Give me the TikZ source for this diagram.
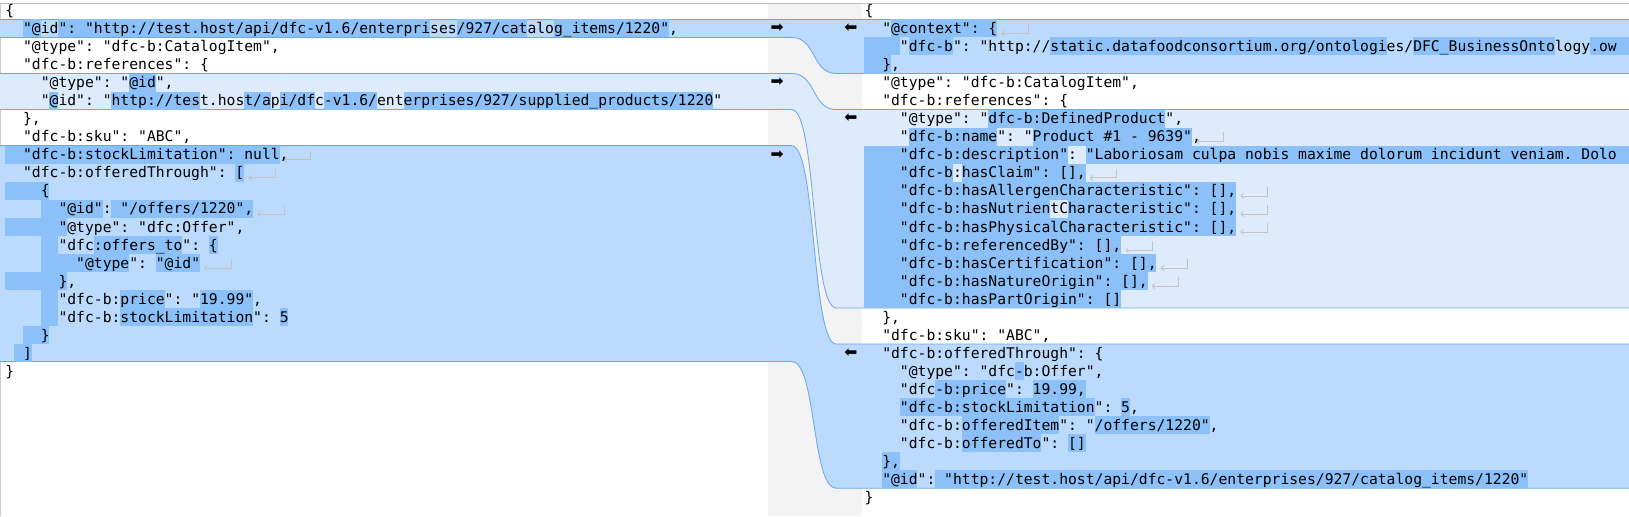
\documentclass[tikz,border=0pt]{standalone}
\usepackage{fontspec}
\setmonofont{DejaVu Sans Mono}
\newfontfamily\symf{DejaVu Sans}
\definecolor{blk}{HTML}{BBDAFC}
\definecolor{lite}{HTML}{DDEBFC}
\definecolor{inl}{HTML}{8CC0F8}
\definecolor{edg}{HTML}{6AA8EE}
\definecolor{gut}{HTML}{F3F3F3}
\definecolor{retc}{HTML}{C4C4C4}
\def\cw{8.52}
\def\rh{17.36}
\newcommand\LT[3]{\node[txt] (l#1) at ({5+#2*\cw},{15+#1*\rh}) {#3};}
\newcommand\RT[3]{\node[txt] (r#1) at ({832+#2*\cw},{15+#1*\rh}) {#3};}
\newcommand\HL[4]{\fill[inl] ({#1+#3*\cw},{1.32+#2*\rh}) rectangle ({#1+#4*\cw},{1.32+(#2+1)*\rh});}
\newcommand\LH[3]{\HL{5}{#1}{#2}{#3}}
\newcommand\RH[3]{\HL{832}{#1}{#2}{#3}}
\newcommand\RET[3]{\draw[retc,line width=0.8pt,-{Straight Barb[length=2.5pt,width=5pt]}] ({#1+#3*\cw+30},{10+#2*\rh-4}) -- ({#1+#3*\cw+30},{10+#2*\rh+5}) -- ({#1+#3*\cw+4},{10+#2*\rh+5});}
\newcommand\band[5]{%
 \fill[#5] (0,#1) -- (762,#1) .. controls (786,#1) and (781,#3) .. (805,#3) -- (1568,#3) -- (1568,#4) -- (805,#4) .. controls (781,#4) and (786,#2) .. (762,#2) -- (0,#2) -- cycle;
 \draw[edg,line width=0.8pt] (0,#1) -- (762,#1) .. controls (786,#1) and (781,#3) .. (805,#3) -- (1568,#3);
 \draw[edg,line width=0.8pt] (0,#2) -- (762,#2) .. controls (786,#2) and (781,#4) .. (805,#4) -- (1568,#4);}
\usetikzlibrary{arrows.meta}
\begin{document}
\begin{tikzpicture}[x=1pt,y=-1pt,
  txt/.style={anchor=base west,inner sep=0pt,font=\ttfamily\fontsize{14.15}{17}\selectfont},
  arr/.style={inner sep=0pt,font=\symf\fontsize{15}{17}\selectfont}]
\useasboundingbox (0,0) rectangle (1568,497);
\clip (0,0) rectangle (1568,497);
\fill[white] (0,0) rectangle (1568,497);
\fill[gut] (739,4) rectangle (830,497);
\draw[gray!50,line width=1pt] (0,3.5) -- (1568,3.5);
\draw[gray!40] (0.5,3.5) -- (0.5,497);
% bands
\band{18.68}{36.04}{18.68}{70.76}{blk}
\band{70.76}{105.48}{105.48}{296.44}{lite}
\band{140.2}{348.04}{331.16}{470.04}{blk}
% inline highlights left
\LH{1}{2}{4}\LH{1}{6}{48}\LH{1}{51}{59}\LH{1}{62}{75}
\LH{4}{14}{17}
\LH{5}{5}{6}\LH{5}{12}{22}\LH{5}{27}{30}\LH{5}{31}{35}\LH{5}{36}{42}\LH{5}{45}{80}
\LH{8}{0}{31}\LH{9}{26}{27}\LH{10}{0}{5}
\LH{11}{4}{11}\LH{11}{12}{28}\LH{12}{0}{7}
\LH{13}{4}{6}\LH{13}{10}{20}\LH{13}{23}{24}
\LH{14}{4}{14}\LH{14}{17}{22}\LH{15}{0}{7}
\LH{16}{4}{6}\LH{16}{13}{18}\LH{16}{22}{28}
\LH{17}{4}{6}\LH{17}{13}{28}\LH{17}{31}{32}
\LH{18}{2}{5}\LH{19}{1}{3}
% inline highlights right
\RH{1}{3}{15}
\RH{2}{0}{4}\RH{2}{5}{10}\RH{2}{21}{59}\RH{2}{62}{78}\RH{2}{82}{90}
\RH{3}{0}{3}
\RH{6}{14}{34}
\RH{7}{5}{15}\RH{7}{19}{37}
\RH{8}{0}{23}\RH{8}{25}{100}
\RH{9}{0}{10}\RH{9}{11}{25}
\RH{10}{0}{42}\RH{11}{0}{21}\RH{11}{23}{42}\RH{12}{0}{42}
\RH{13}{0}{29}\RH{14}{0}{33}\RH{15}{0}{32}\RH{16}{0}{29}
\RH{20}{17}{18}\RH{21}{8}{16}\RH{21}{19}{25}
\RH{22}{4}{26}\RH{22}{29}{30}
\RH{23}{11}{22}\RH{23}{26}{39}
\RH{24}{11}{20}\RH{24}{23}{25}
\RH{25}{2}{4}\RH{26}{2}{6}\RH{26}{8}{75}
% return marks
\RET{5}{8}{31}\RET{5}{9}{27}\RET{5}{11}{28}\RET{5}{14}{22}
\RET{832}{1}{15}\RET{832}{7}{37}\RET{832}{9}{25}
\RET{832}{10}{42}\RET{832}{11}{42}\RET{832}{12}{42}
\RET{832}{13}{29}\RET{832}{14}{33}\RET{832}{15}{32}
% left text
\LT{0}{0}{\{}
\LT{1}{2}{"@id": "http://test.host/api/dfc-v1.6/enterprises/927/catalog\_items/1220",}
\LT{2}{2}{"@type": "dfc-b:CatalogItem",}
\LT{3}{2}{"dfc-b:references": \{}
\LT{4}{4}{"@type": "@id",}
\LT{5}{4}{"@id": "http://test.host/api/dfc-v1.6/enterprises/927/supplied\_products/1220"}
\LT{6}{2}{\},}
\LT{7}{2}{"dfc-b:sku": "ABC",}
\LT{8}{2}{"dfc-b:stockLimitation": null,}
\LT{9}{2}{"dfc-b:offeredThrough": [}
\LT{10}{4}{\{}
\LT{11}{6}{"@id": "/offers/1220",}
\LT{12}{6}{"@type": "dfc:Offer",}
\LT{13}{6}{"dfc:offers\_to": \{}
\LT{14}{8}{"@type": "@id"}
\LT{15}{6}{\},}
\LT{16}{6}{"dfc-b:price": "19.99",}
\LT{17}{6}{"dfc-b:stockLimitation": 5}
\LT{18}{4}{\}}
\LT{19}{2}{]}
\LT{20}{0}{\}}
% right text
\RT{0}{0}{\{}
\RT{1}{2}{"@context": \{}
\RT{2}{4}{"dfc-b": "http://static.datafoodconsortium.org/ontologies/DFC\_BusinessOntology.ow}
\RT{3}{2}{\},}
\RT{4}{2}{"@type": "dfc-b:CatalogItem",}
\RT{5}{2}{"dfc-b:references": \{}
\RT{6}{4}{"@type": "dfc-b:DefinedProduct",}
\RT{7}{4}{"dfc-b:name": "Product \#1 - 9639",}
\RT{8}{4}{"dfc-b:description": "Laboriosam culpa nobis maxime dolorum incidunt veniam. Dolo}
\RT{9}{4}{"dfc-b:hasClaim": [],}
\RT{10}{4}{"dfc-b:hasAllergenCharacteristic": [],}
\RT{11}{4}{"dfc-b:hasNutrientCharacteristic": [],}
\RT{12}{4}{"dfc-b:hasPhysicalCharacteristic": [],}
\RT{13}{4}{"dfc-b:referencedBy": [],}
\RT{14}{4}{"dfc-b:hasCertification": [],}
\RT{15}{4}{"dfc-b:hasNatureOrigin": [],}
\RT{16}{4}{"dfc-b:hasPartOrigin": []}
\RT{17}{2}{\},}
\RT{18}{2}{"dfc-b:sku": "ABC",}
\RT{19}{2}{"dfc-b:offeredThrough": \{}
\RT{20}{4}{"@type": "dfc-b:Offer",}
\RT{21}{4}{"dfc-b:price": 19.99,}
\RT{22}{4}{"dfc-b:stockLimitation": 5,}
\RT{23}{4}{"dfc-b:offeredItem": "/offers/1220",}
\RT{24}{4}{"dfc-b:offeredTo": []}
\RT{25}{2}{\},}
\RT{26}{2}{"@id": "http://test.host/api/dfc-v1.6/enterprises/927/catalog\_items/1220"}
\RT{27}{0}{\}}
% arrows
\node[arr] (a1) at (748,{10+1*\rh}) {➡};
\node[arr] (a2) at (748,{10+4*\rh}) {➡};
\node[arr] (a3) at (748,{10+8*\rh}) {➡};
\node[arr] (b1) at (819,{10+1*\rh}) {⬅};
\node[arr] (b2) at (819,{10+6*\rh}) {⬅};
\node[arr] (b3) at (819,{10+19*\rh}) {⬅};
\end{tikzpicture}
\end{document}
